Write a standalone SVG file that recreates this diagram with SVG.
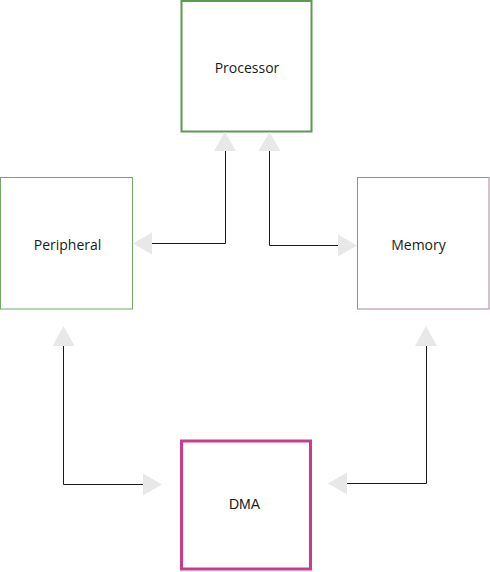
<svg xmlns="http://www.w3.org/2000/svg" width="490" height="572" viewBox="0 0 490 572">
<style>
.lbl{font-family:"Open Sans","Noto Sans",sans-serif;font-size:14px;fill:#1a1a1a;text-anchor:middle;dominant-baseline:central}
.dma{font-family:"Liberation Sans",Arial,sans-serif;font-size:14px;fill:#1a1a1a;text-anchor:middle;dominant-baseline:central}
.ln{fill:none;stroke:#1a1a1a;stroke-width:1}
.ah{fill:#e8e8e8;stroke:none}
</style>
<rect width="490" height="572" fill="#ffffff"/>
<g id="processor">
<rect x="181.5" y="1" width="130" height="130.5" fill="#fff" stroke="#5f9850" stroke-width="2"/>
<text class="lbl" x="247" y="67">Processor</text>
</g>
<g id="peripheral">
<rect x="0.5" y="177.5" width="132" height="131.5" fill="#fff" stroke="#74a864" stroke-width="1"/>
<text class="lbl" x="67.5" y="244">Peripheral</text>
</g>
<g id="memory">
<rect x="357.5" y="177.5" width="131.5" height="131.5" fill="#fff" stroke="#a8849e" stroke-width="1"/>
<text class="lbl" x="418.5" y="244">Memory</text>
</g>
<g id="dma">
<rect x="181.5" y="441" width="129" height="128" fill="#fff" stroke="#cc3a8b" stroke-width="3"/>
<text class="dma" x="244.5" y="503.5">DMA</text>
</g>
<g id="connectors">
<path class="ln" d="M152 243.5 H225.5 V151"/>
<polygon class="ah" points="133,243.5 152,232.5 152,254.5"/>
<polygon class="ah" points="225,132 214,151 236,151"/>
<path class="ln" d="M269.5 151 V245.5 H338"/>
<polygon class="ah" points="269.5,132 258.5,151 280.5,151"/>
<polygon class="ah" points="357,245.5 338,234.5 338,256.5"/>
<path class="ln" d="M63.5 346 V484.5 H143"/>
<polygon class="ah" points="63.5,326 52.5,346 74.5,346"/>
<polygon class="ah" points="162,484.5 143,473.5 143,495.5"/>
<path class="ln" d="M426.5 346 V483.5 H347"/>
<polygon class="ah" points="426,326 415,346 437,346"/>
<polygon class="ah" points="328,483.5 347,472.5 347,494.5"/>
</g>
</svg>
